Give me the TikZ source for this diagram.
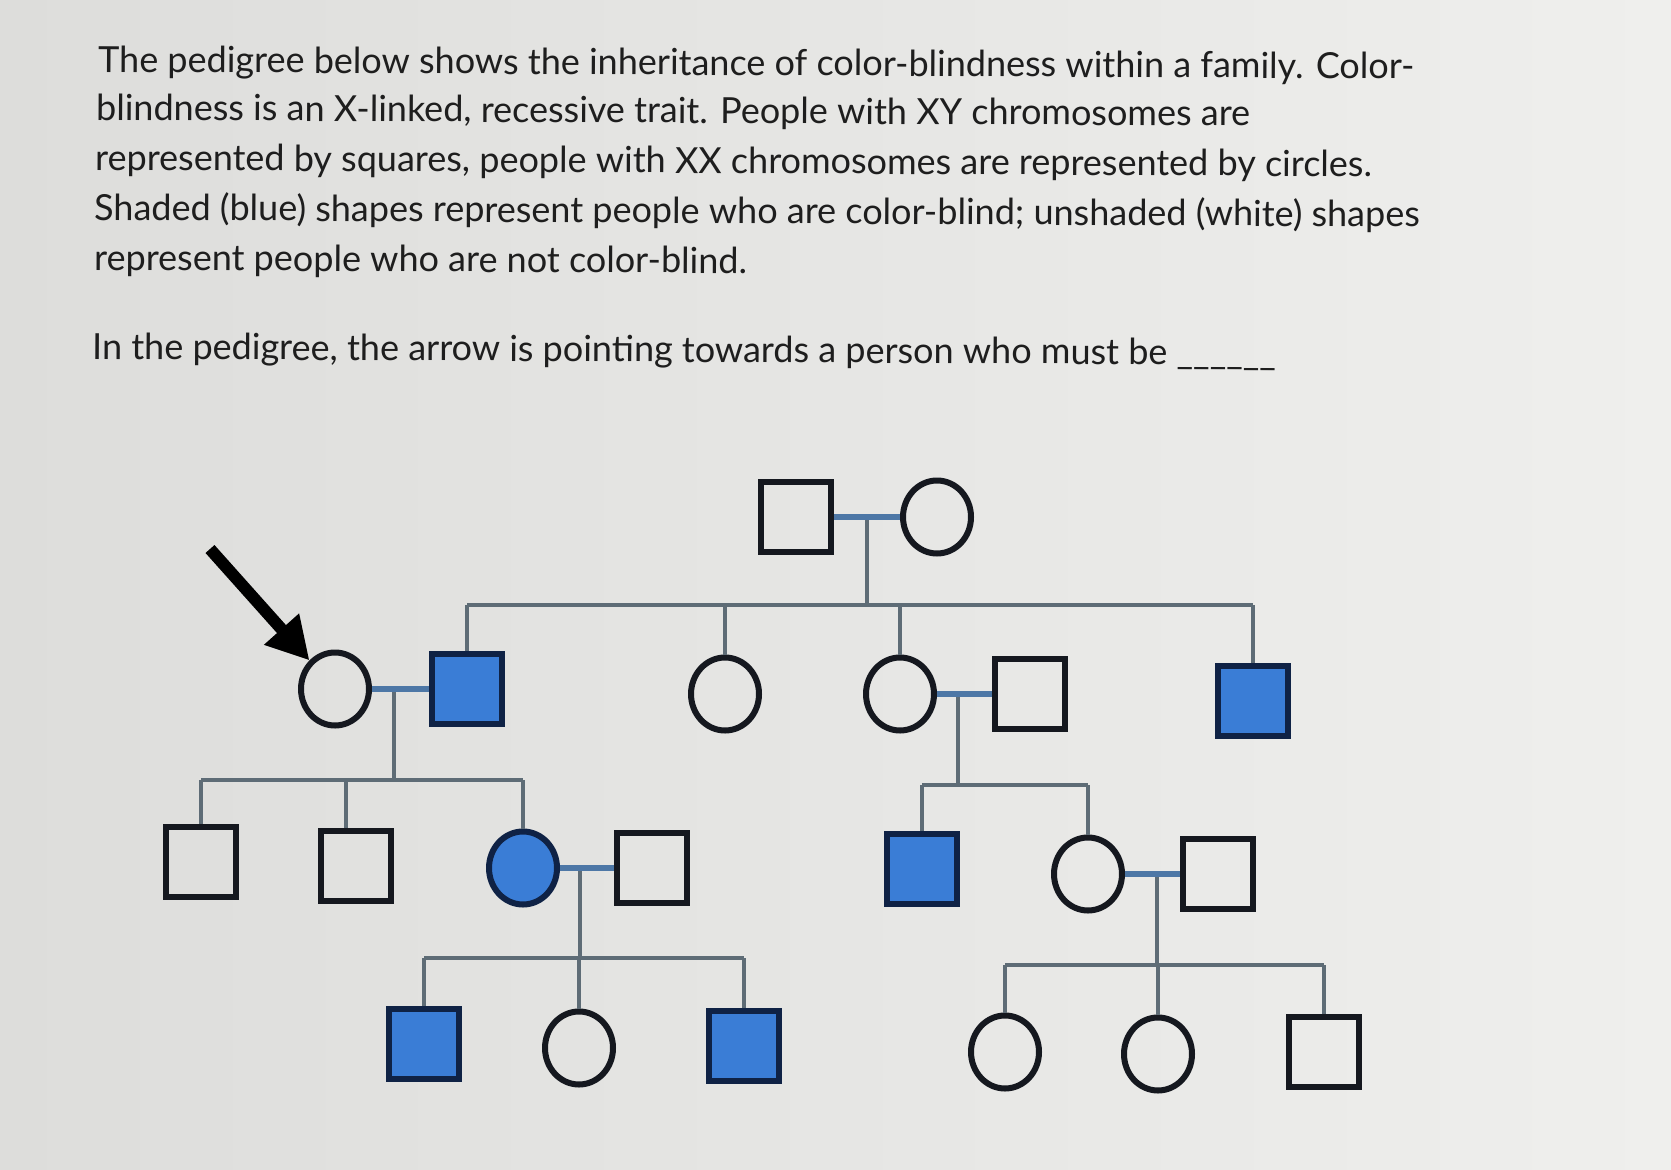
\documentclass[tikz,border=0pt]{standalone}
\usepackage{fontspec}
\setmainfont{Lato}
\usetikzlibrary{shapes.geometric,arrows.meta,calc}
\definecolor{bgL}{HTML}{DDDDDB}
\definecolor{bgR}{HTML}{EFEFED}
\definecolor{outl}{HTML}{15181F}
\definecolor{navy}{HTML}{0F2245}
\definecolor{blueF}{HTML}{3A7DD6}
\definecolor{linec}{HTML}{5E6C76}
\definecolor{marc}{HTML}{4D77A6}
\definecolor{textc}{HTML}{1E1E1E}
\begin{document}
\begin{tikzpicture}[x=1pt,y=-1pt,
  sq/.style={rectangle,draw=outl,line width=6pt,minimum size=70pt,inner sep=0pt},
  fem/.style={ellipse,draw=outl,line width=6pt,minimum width=68pt,minimum height=73pt,inner sep=0pt},
  aff/.style={fill=blueF,draw=navy},
  mar/.style={line width=6pt,draw=marc},
  desc/.style={line width=3.5pt,draw=linec},
  txt/.style={anchor=base west,inner sep=0pt,text=textc,font=\fontsize{36}{44}\selectfont,rotate=-0.3},
  pointer/.style={line width=12pt,draw=black,-{Triangle[length=42pt,width=44pt]}}
]
\useasboundingbox (0,0) rectangle (1671,1170);
\shade[left color=bgL,right color=bgR] (0,0) rectangle (1671,1170);

% question text
\node[txt] (t1) at (98,72) {The pedigree below shows the inheritance of color-blindness within a family. Color-};
\node[txt] (t2) at (96,120) {blindness is an X-linked, recessive trait. People with XY chromosomes are};
\node[txt] (t3) at (95,170) {represented by squares, people with XX chromosomes are represented by circles.};
\node[txt] (t4) at (94,220) {Shaded (blue) shapes represent people who are color-blind; unshaded (white) shapes};
\node[txt] (t5) at (94,270) {represent people who are not color-blind.};
\node[txt] (t6) at (92,359) {In the pedigree, the arrow is pointing towards a person who must be \_\_\_\_\_\_};

% generation I
\node[sq] (I1) at (796,517) {};
\node[fem] (I2) at (937,517) {};
% generation II
\node[fem] (II1) at (335,689) {};
\node[sq,aff] (II2) at (467,689) {};
\node[fem] (II3) at (725,694) {};
\node[fem] (II4) at (900,694) {};
\node[sq] (II5) at (1030,694) {};
\node[sq,aff] (II6) at (1253,701) {};
% generation III
\node[sq] (III1) at (201,862) {};
\node[sq] (III2) at (356,866) {};
\node[fem,aff] (III3) at (523,868) {};
\node[sq] (III4) at (652,868) {};
\node[sq,aff] (III5) at (922,869) {};
\node[fem] (III6) at (1088,874) {};
\node[sq] (III7) at (1218,874) {};
% generation IV
\node[sq,aff] (IV1) at (424,1044) {};
\node[fem] (IV2) at (579,1048) {};
\node[sq,aff] (IV3) at (744,1046) {};
\node[fem] (IV4) at (1005,1052) {};
\node[fem] (IV5) at (1158,1054) {};
\node[sq] (IV6) at (1324,1052) {};

% family I
\coordinate (mI) at (867,517);
\coordinate (sIIl) at (467,605);
\coordinate (sIIr) at (1253,605);
\draw[desc] (mI) -- (mI |- sIIl);
\draw[desc] (sIIl) -- (sIIr);
\foreach \n in {II2,II3,II4,II6} \draw[desc] (\n.north) -- (\n.north |- sIIl);
\draw[mar] (I1) -- (I2);

% family A
\coordinate (mA) at (394,689);
\coordinate (sAl) at (201,780);
\coordinate (sAr) at (523,780);
\draw[desc] (mA) -- (mA |- sAl);
\draw[desc] (sAl) -- (sAr);
\draw[desc] (III1.north) -- (III1.north |- sAl);
\draw[desc] ([xshift=-10pt]III2.north) -- ([xshift=-10pt]III2.north |- sAl);
\draw[desc] (III3.north) -- (III3.north |- sAl);
\draw[mar] (II1) -- (II2);

% family C
\coordinate (mC) at (958,694);
\coordinate (sCl) at (922,785);
\coordinate (sCr) at (1088,785);
\draw[desc] (mC) -- (mC |- sCl);
\draw[desc] (sCl) -- (sCr);
\foreach \n in {III5,III6} \draw[desc] (\n.north) -- (\n.north |- sCl);
\draw[mar] (II4) -- (II5);

% family E
\coordinate (mE) at (580,868);
\coordinate (sEl) at (424,958);
\coordinate (sEr) at (744,958);
\draw[desc] (mE) -- (mE |- sEl);
\draw[desc] (sEl) -- (sEr);
\foreach \n in {IV1,IV2,IV3} \draw[desc] (\n.north) -- (\n.north |- sEl);
\draw[mar] (III3) -- (III4);

% family G
\coordinate (mG) at (1157,874);
\coordinate (sGl) at (1005,965);
\coordinate (sGr) at (1324,965);
\draw[desc] (mG) -- (mG |- sGl);
\draw[desc] (sGl) -- (sGr);
\foreach \n in {IV4,IV5,IV6} \draw[desc] (\n.north) -- (\n.north |- sGl);
\draw[mar] (III6) -- (III7);

% arrow
\coordinate (atail) at (210,549);
\draw[pointer] (atail) -- (II1);
\end{tikzpicture}
\end{document}
